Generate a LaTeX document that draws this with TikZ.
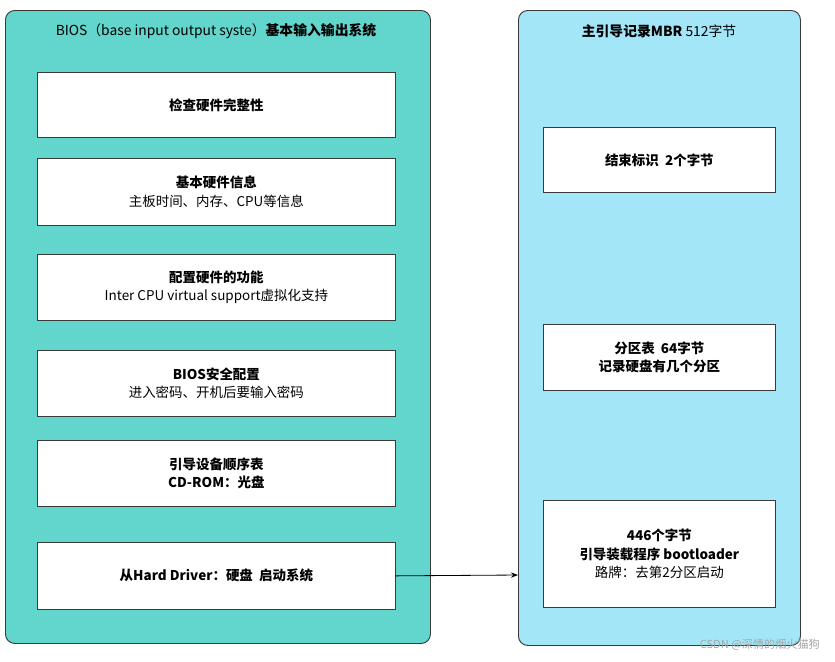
\documentclass[tikz,border=0pt]{standalone}
\usepackage{fontspec}
\setmainfont{Noto Sans CJK SC}
\usetikzlibrary{arrows.meta}
\definecolor{teal1}{HTML}{62D6CC}
\definecolor{blue1}{HTML}{A3E6F8}
\definecolor{edge}{HTML}{3A3A3A}
\tikzset{
  panel/.style={draw=edge,line width=0.8pt,rounded corners=8pt},
  item/.style={draw=edge,fill=white,line width=0.6pt,align=center,font=\fontsize{11.5}{16}\selectfont},
}
\begin{document}
\begin{tikzpicture}[x=0.03cm,y=-0.03cm]
\useasboundingbox (0,0) rectangle (835,661);
\fill[white] (0,0) rectangle (835,661);
\node[panel,fill=teal1,minimum width=425*0.03cm,minimum height=633*0.03cm,anchor=north west] (L) at (5,10) {};
\node[panel,fill=blue1,minimum width=282*0.03cm,minimum height=635*0.03cm,anchor=north west] (R) at (518,10) {};
\node[font=\fontsize{11.8}{13}\selectfont] (lt) at (216,31) {BIOS（base input output syste）\textbf{基本输入输出系统}};
\node[font=\fontsize{11.8}{13}\selectfont] (rt) at (659,31) {\textbf{主引导记录MBR} 512字节};
\newcommand{\bx}[4]{\node[item,minimum width=358*0.03cm,minimum height=#3*0.03cm,anchor=north west] (#1) at (37,#2) {#4};}
\bx{a}{72}{65}{\textbf{检查硬件完整性}}
\bx{b}{158}{67}{\textbf{基本硬件信息}\\主板时间、内存、CPU等信息}
\bx{c}{254}{66}{\textbf{配置硬件的功能}\\Inter CPU virtual support虚拟化支持}
\bx{d}{350}{66}{\textbf{BIOS安全配置}\\进入密码、开机后要输入密码}
\bx{e}{440}{66}{\textbf{引导设备顺序表}\\\textbf{CD-ROM：光盘}}
\bx{f}{542}{67}{\textbf{从Hard Driver：硬盘\ \ 启动系统}}
\newcommand{\rbx}[4]{\node[item,minimum width=232*0.03cm,minimum height=#3*0.03cm,anchor=north west] (#1) at (543,#2) {#4};}
\rbx{g}{127}{65}{\textbf{结束标识\ \ 2个字节}}
\rbx{h}{324}{66}{\textbf{分区表\ \ 64字节}\\\textbf{记录硬盘有几个分区}}
\rbx{i}{500}{107}{\textbf{446个字节}\\\textbf{引导装载程序 bootloader}\\路牌：去第2分区启动}
\coordinate (re) at (518,575);
\draw[-{Stealth[length=6pt]},line width=0.7pt] (f.east) -- (re);
\node[text=gray!70,font=\fontsize{9.5}{10}\selectfont,anchor=east] (wm) at (824,645) {CSDN @深情的烟火猫狗};
\end{tikzpicture}
\end{document}
